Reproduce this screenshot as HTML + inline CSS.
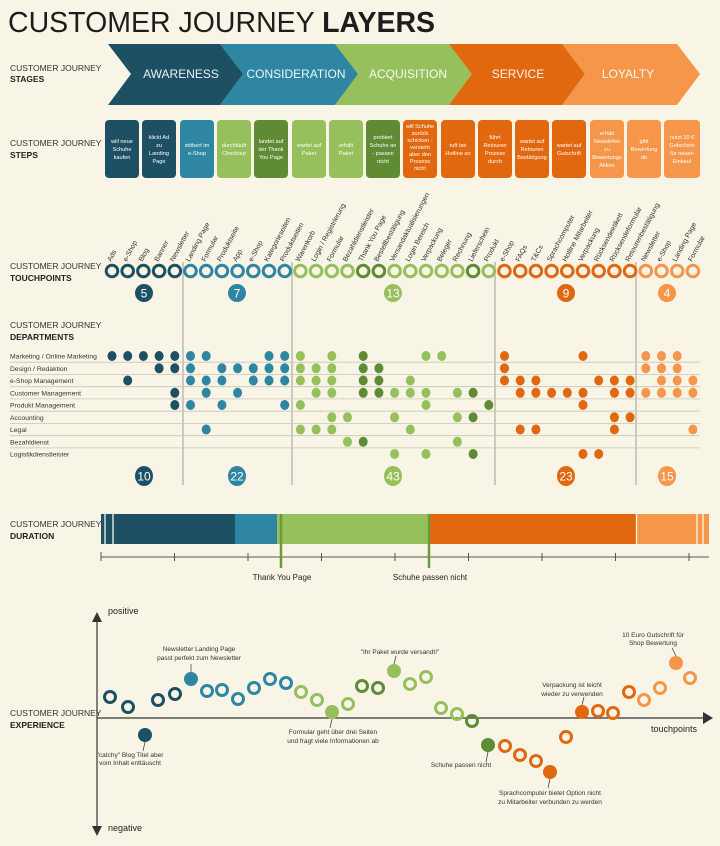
<!DOCTYPE html>
<html><head><meta charset="utf-8"><style>
html,body{margin:0;padding:0;background:#f8f5e6}
svg{display:block;font-family:"Liberation Sans",sans-serif}
.D{fill:#1e5064}.T{fill:#2e86a3}.G{fill:#96c05c}.K{fill:#5f8b34}.O{fill:#e2680f}.L{fill:#f5964a}
.rD{stroke:#1e5064}.rT{stroke:#2e86a3}.rG{stroke:#96c05c}.rK{stroke:#5f8b34}.rO{stroke:#e2680f}.rL{stroke:#f5964a}
.r circle{fill:none;stroke-width:3}
.lbl{font-size:8.5px;fill:#333}
.lbb{font-size:8.5px;fill:#222;font-weight:bold}
.st text{font-size:5.6px;fill:#fff;text-anchor:middle}
.tp text{font-size:7px;fill:#333}
.dep{font-size:6.8px;fill:#333}
.num{font-size:12px;fill:#fff;text-anchor:middle}
.ann{font-size:6.5px;fill:#333;text-anchor:middle}
</style></head><body>
<svg width="720" height="846" viewBox="0 0 720 846" xmlns="http://www.w3.org/2000/svg">
<rect width="720" height="846" fill="#f8f5e6"/>
<text x="8" y="32" font-size="28.5" fill="#1d1d1d">CUSTOMER JOURNEY <tspan font-weight="bold">LAYERS</tspan></text>

<!-- stages -->
<text x="10" y="71" class="lbl">CUSTOMER JOURNEY</text>
<text x="10" y="82" class="lbb">STAGES</text>
<polygon class="L" points="562,44 677,44 700,74 677,105 562,105 585,74"/>
<polygon class="O" points="447,44 562,44 585,74 562,105 447,105 470,74"/>
<polygon class="G" points="335,44 449,44 472,74 449,105 335,105 358,74"/>
<polygon class="T" points="220,44 335,44 358,74 335,105 220,105 243,74"/>
<polygon class="D" points="108,44 220,44 243,74 220,105 108,105 131,74"/>
<g font-size="12" fill="#fff" text-anchor="middle" opacity="0.92">
<text x="181" y="78">AWARENESS</text><text x="296" y="78">CONSIDERATION</text><text x="408" y="78">ACQUISITION</text><text x="518" y="78">SERVICE</text><text x="628" y="78">LOYALTY</text></g>

<!-- steps -->
<text x="10" y="146" class="lbl">CUSTOMER JOURNEY</text>
<text x="10" y="158" class="lbb">STEPS</text>
<g class="st">
<rect class="D" x="105" y="120" width="34" height="58" rx="4"/><text x="122" y="143">will neue</text><text x="122" y="151">Schuhe</text><text x="122" y="159">kaufen</text>
<rect class="D" x="142" y="120" width="34" height="58" rx="4"/><text x="159" y="139">klickt Ad</text><text x="159" y="147">zu</text><text x="159" y="155">Landing</text><text x="159" y="163">Page</text>
<rect class="T" x="180" y="120" width="34" height="58" rx="4"/><text x="197" y="147">stöbert im</text><text x="197" y="155">e-Shop</text>
<rect class="G" x="217" y="120" width="34" height="58" rx="4"/><text x="234" y="147">durchläuft</text><text x="234" y="155">Checkout</text>
<rect class="K" x="254" y="120" width="34" height="58" rx="4"/><text x="271" y="143">landet auf</text><text x="271" y="151">der Thank</text><text x="271" y="159">You Page</text>
<rect class="G" x="292" y="120" width="34" height="58" rx="4"/><text x="309" y="147">wartet auf</text><text x="309" y="155">Paket</text>
<rect class="G" x="329" y="120" width="34" height="58" rx="4"/><text x="346" y="147">erhält</text><text x="346" y="155">Paket</text>
<rect class="K" x="366" y="120" width="34" height="58" rx="4"/><text x="383" y="139">probiert</text><text x="383" y="147">Schuhe an</text><text x="383" y="155">- passen</text><text x="383" y="163">nicht</text>
<rect class="O" x="403" y="120" width="34" height="58" rx="4"/><text x="420" y="128">will Schuhe</text><text x="420" y="135">zurück</text><text x="420" y="142">schicken -</text><text x="420" y="149">versteht</text><text x="420" y="156">aber den</text><text x="420" y="163">Prozess</text><text x="420" y="170">nicht</text>
<rect class="O" x="441" y="120" width="34" height="58" rx="4"/><text x="458" y="147">ruft bei</text><text x="458" y="155">Hotline an</text>
<rect class="O" x="478" y="120" width="34" height="58" rx="4"/><text x="495" y="139">führt</text><text x="495" y="147">Retouren</text><text x="495" y="155">Prozess</text><text x="495" y="163">durch</text>
<rect class="O" x="515" y="120" width="34" height="58" rx="4"/><text x="532" y="143">wartet auf</text><text x="532" y="151">Retouren</text><text x="532" y="159">Bestätigung</text>
<rect class="O" x="552" y="120" width="34" height="58" rx="4"/><text x="569" y="147">wartet auf</text><text x="569" y="155">Gutschrift</text>
<rect class="L" x="590" y="120" width="34" height="58" rx="4"/><text x="607" y="135">erhält</text><text x="607" y="143">Newsletter</text><text x="607" y="151">zu</text><text x="607" y="159">Bewertungs</text><text x="607" y="167">Aktion</text>
<rect class="L" x="627" y="120" width="34" height="58" rx="4"/><text x="644" y="143">gibt</text><text x="644" y="151">Bewertung</text><text x="644" y="159">ab</text>
<rect class="L" x="664" y="120" width="36" height="58" rx="4"/><text x="682" y="139">nutzt 10 €</text><text x="682" y="147">Gutschein</text><text x="682" y="155">für neuen</text><text x="682" y="163">Einkauf</text>
</g>

<!-- dividers -->
<g stroke="#8a8a80" stroke-width="0.8">
<line x1="183" y1="262" x2="183" y2="485"/><line x1="292" y1="262" x2="292" y2="485"/><line x1="495" y1="262" x2="495" y2="485"/><line x1="636" y1="262" x2="636" y2="485"/>
</g>

<!-- touchpoints -->
<text x="10" y="269" class="lbl">CUSTOMER JOURNEY</text>
<text x="10" y="281" class="lbb">TOUCHPOINTS</text>
<g class="tp">
<text transform="translate(111,262) rotate(-62)">Ads</text>
<text transform="translate(126.7,262) rotate(-62)">e-Shop</text>
<text transform="translate(142.4,262) rotate(-62)">Blog</text>
<text transform="translate(158.1,262) rotate(-62)">Banner</text>
<text transform="translate(173.8,262) rotate(-62)">Newsletter</text>
<text transform="translate(189.5,262) rotate(-62)">Landing Page</text>
<text transform="translate(205.2,262) rotate(-62)">Formular</text>
<text transform="translate(220.9,262) rotate(-62)">Produktseite</text>
<text transform="translate(236.6,262) rotate(-62)">App</text>
<text transform="translate(252.3,262) rotate(-62)">e-Shop</text>
<text transform="translate(268,262) rotate(-62)">Kategorieseiten</text>
<text transform="translate(283.7,262) rotate(-62)">Produktseiten</text>
<text transform="translate(299.4,262) rotate(-62)">Warenkorb</text>
<text transform="translate(315.1,262) rotate(-62)">Login / Registrierung</text>
<text transform="translate(330.8,262) rotate(-62)">Formular</text>
<text transform="translate(346.5,262) rotate(-62)">Bezahldienstleister</text>
<text transform="translate(362.2,262) rotate(-62)">Thank You Page</text>
<text transform="translate(377.9,262) rotate(-62)">Bestellbestätigung</text>
<text transform="translate(393.6,262) rotate(-62)">Versandaktualisierungen</text>
<text transform="translate(409.3,262) rotate(-62)">Login Bereich</text>
<text transform="translate(425,262) rotate(-62)">Verpackung</text>
<text transform="translate(440.7,262) rotate(-62)">Beleger</text>
<text transform="translate(456.4,262) rotate(-62)">Rechnung</text>
<text transform="translate(472.1,262) rotate(-62)">Lieferschein</text>
<text transform="translate(487.8,262) rotate(-62)">Produkt</text>
<text transform="translate(503.5,262) rotate(-62)">e-Shop</text>
<text transform="translate(519.2,262) rotate(-62)">FAQs</text>
<text transform="translate(534.9,262) rotate(-62)">T&amp;Cs</text>
<text transform="translate(550.6,262) rotate(-62)">Sprachcomputer</text>
<text transform="translate(566.3,262) rotate(-62)">Hotline Mitarbeiter</text>
<text transform="translate(582,262) rotate(-62)">Verpackung</text>
<text transform="translate(597.7,262) rotate(-62)">Rücksendeetikett</text>
<text transform="translate(613.4,262) rotate(-62)">Rücksendeformular</text>
<text transform="translate(629.1,262) rotate(-62)">Retourenbestätigung</text>
<text transform="translate(644.8,262) rotate(-62)">Newsletter</text>
<text transform="translate(660.5,262) rotate(-62)">e-Shop</text>
<text transform="translate(676.2,262) rotate(-62)">Landing Page</text>
<text transform="translate(691.9,262) rotate(-62)">Formular</text>
</g>
<g class="r">
<circle class="rD" cx="112" cy="271" r="5.8"/><circle class="rD" cx="127.7" cy="271" r="5.8"/><circle class="rD" cx="143.4" cy="271" r="5.8"/><circle class="rD" cx="159.1" cy="271" r="5.8"/><circle class="rD" cx="174.8" cy="271" r="5.8"/>
<circle class="rT" cx="190.5" cy="271" r="5.8"/><circle class="rT" cx="206.2" cy="271" r="5.8"/><circle class="rT" cx="221.9" cy="271" r="5.8"/><circle class="rT" cx="237.6" cy="271" r="5.8"/><circle class="rT" cx="253.3" cy="271" r="5.8"/><circle class="rT" cx="269" cy="271" r="5.8"/><circle class="rT" cx="284.7" cy="271" r="5.8"/>
<circle class="rG" cx="300.4" cy="271" r="5.8"/><circle class="rG" cx="316.1" cy="271" r="5.8"/><circle class="rG" cx="331.8" cy="271" r="5.8"/><circle class="rG" cx="347.5" cy="271" r="5.8"/><circle class="rK" cx="363.2" cy="271" r="5.8"/><circle class="rK" cx="378.9" cy="271" r="5.8"/><circle class="rG" cx="394.6" cy="271" r="5.8"/><circle class="rG" cx="410.3" cy="271" r="5.8"/><circle class="rG" cx="426" cy="271" r="5.8"/><circle class="rG" cx="441.7" cy="271" r="5.8"/><circle class="rG" cx="457.4" cy="271" r="5.8"/><circle class="rK" cx="473.1" cy="271" r="5.8"/><circle class="rG" cx="488.8" cy="271" r="5.8"/>
<circle class="rO" cx="504.5" cy="271" r="5.8"/><circle class="rO" cx="520.2" cy="271" r="5.8"/><circle class="rO" cx="535.9" cy="271" r="5.8"/><circle class="rO" cx="551.6" cy="271" r="5.8"/><circle class="rO" cx="567.3" cy="271" r="5.8"/><circle class="rO" cx="583" cy="271" r="5.8"/><circle class="rO" cx="598.7" cy="271" r="5.8"/><circle class="rO" cx="614.4" cy="271" r="5.8"/><circle class="rO" cx="630.1" cy="271" r="5.8"/>
<circle class="rL" cx="645.8" cy="271" r="5.8"/><circle class="rL" cx="661.5" cy="271" r="5.8"/><circle class="rL" cx="677.2" cy="271" r="5.8"/><circle class="rL" cx="692.9" cy="271" r="5.8"/>
</g>
<circle class="D" cx="144" cy="293" r="9"/><text class="num" x="144" y="297.5">5</text>
<circle class="T" cx="237" cy="293" r="9"/><text class="num" x="237" y="297.5">7</text>
<circle class="G" cx="393" cy="293" r="9"/><text class="num" x="393" y="297.5">13</text>
<circle class="O" cx="566" cy="293" r="9"/><text class="num" x="566" y="297.5">9</text>
<circle class="L" cx="667" cy="293" r="9"/><text class="num" x="667" y="297.5">4</text>

<!-- departments -->
<text x="10" y="328" class="lbl">CUSTOMER JOURNEY</text>
<text x="10" y="340" class="lbb">DEPARTMENTS</text>
<g class="dep">
<text x="10" y="358.5">Marketing / Online Marketing</text>
<text x="10" y="370.8">Design / Redaktion</text>
<text x="10" y="383">e-Shop Management</text>
<text x="10" y="395.3">Customer Management</text>
<text x="10" y="407.5">Produkt Management</text>
<text x="10" y="419.8">Accounting</text>
<text x="10" y="432">Legal</text>
<text x="10" y="444.3">Bezahldienst</text>
<text x="10" y="456.5">Logistikdienstleister</text>
</g>
<g stroke="#c8c6b8" stroke-width="0.8">
<line x1="10" y1="362.2" x2="700" y2="362.2"/><line x1="10" y1="374.4" x2="700" y2="374.4"/><line x1="10" y1="386.7" x2="700" y2="386.7"/><line x1="10" y1="398.9" x2="700" y2="398.9"/><line x1="10" y1="411.2" x2="700" y2="411.2"/><line x1="10" y1="423.4" x2="700" y2="423.4"/><line x1="10" y1="435.7" x2="700" y2="435.7"/><line x1="10" y1="447.9" x2="700" y2="447.9"/>
</g>
<g>
<ellipse class="D" cx="112" cy="356" rx="4.5" ry="5"/><ellipse class="D" cx="127.7" cy="356" rx="4.5" ry="5"/><ellipse class="D" cx="143.4" cy="356" rx="4.5" ry="5"/><ellipse class="D" cx="159.1" cy="356" rx="4.5" ry="5"/><ellipse class="D" cx="174.8" cy="356" rx="4.5" ry="5"/><ellipse class="T" cx="190.5" cy="356" rx="4.5" ry="5"/><ellipse class="T" cx="206.2" cy="356" rx="4.5" ry="5"/><ellipse class="T" cx="269" cy="356" rx="4.5" ry="5"/><ellipse class="T" cx="284.7" cy="356" rx="4.5" ry="5"/><ellipse class="G" cx="300.4" cy="356" rx="4.5" ry="5"/><ellipse class="G" cx="331.8" cy="356" rx="4.5" ry="5"/><ellipse class="K" cx="363.2" cy="356" rx="4.5" ry="5"/><ellipse class="G" cx="426" cy="356" rx="4.5" ry="5"/><ellipse class="G" cx="441.7" cy="356" rx="4.5" ry="5"/><ellipse class="O" cx="504.5" cy="356" rx="4.5" ry="5"/><ellipse class="O" cx="583" cy="356" rx="4.5" ry="5"/><ellipse class="L" cx="645.8" cy="356" rx="4.5" ry="5"/><ellipse class="L" cx="661.5" cy="356" rx="4.5" ry="5"/><ellipse class="L" cx="677.2" cy="356" rx="4.5" ry="5"/>
<ellipse class="D" cx="159.1" cy="368.3" rx="4.5" ry="5"/><ellipse class="D" cx="174.8" cy="368.3" rx="4.5" ry="5"/><ellipse class="T" cx="190.5" cy="368.3" rx="4.5" ry="5"/><ellipse class="T" cx="221.9" cy="368.3" rx="4.5" ry="5"/><ellipse class="T" cx="237.6" cy="368.3" rx="4.5" ry="5"/><ellipse class="T" cx="253.3" cy="368.3" rx="4.5" ry="5"/><ellipse class="T" cx="269" cy="368.3" rx="4.5" ry="5"/><ellipse class="T" cx="284.7" cy="368.3" rx="4.5" ry="5"/><ellipse class="G" cx="300.4" cy="368.3" rx="4.5" ry="5"/><ellipse class="G" cx="316.1" cy="368.3" rx="4.5" ry="5"/><ellipse class="G" cx="331.8" cy="368.3" rx="4.5" ry="5"/><ellipse class="K" cx="363.2" cy="368.3" rx="4.5" ry="5"/><ellipse class="K" cx="378.9" cy="368.3" rx="4.5" ry="5"/><ellipse class="O" cx="504.5" cy="368.3" rx="4.5" ry="5"/><ellipse class="L" cx="645.8" cy="368.3" rx="4.5" ry="5"/><ellipse class="L" cx="661.5" cy="368.3" rx="4.5" ry="5"/><ellipse class="L" cx="677.2" cy="368.3" rx="4.5" ry="5"/>
<ellipse class="D" cx="127.7" cy="380.5" rx="4.5" ry="5"/><ellipse class="T" cx="190.5" cy="380.5" rx="4.5" ry="5"/><ellipse class="T" cx="206.2" cy="380.5" rx="4.5" ry="5"/><ellipse class="T" cx="221.9" cy="380.5" rx="4.5" ry="5"/><ellipse class="T" cx="253.3" cy="380.5" rx="4.5" ry="5"/><ellipse class="T" cx="269" cy="380.5" rx="4.5" ry="5"/><ellipse class="T" cx="284.7" cy="380.5" rx="4.5" ry="5"/><ellipse class="G" cx="300.4" cy="380.5" rx="4.5" ry="5"/><ellipse class="G" cx="316.1" cy="380.5" rx="4.5" ry="5"/><ellipse class="G" cx="331.8" cy="380.5" rx="4.5" ry="5"/><ellipse class="K" cx="363.2" cy="380.5" rx="4.5" ry="5"/><ellipse class="K" cx="378.9" cy="380.5" rx="4.5" ry="5"/><ellipse class="G" cx="410.3" cy="380.5" rx="4.5" ry="5"/><ellipse class="O" cx="504.5" cy="380.5" rx="4.5" ry="5"/><ellipse class="O" cx="520.2" cy="380.5" rx="4.5" ry="5"/><ellipse class="O" cx="535.9" cy="380.5" rx="4.5" ry="5"/><ellipse class="O" cx="598.7" cy="380.5" rx="4.5" ry="5"/><ellipse class="O" cx="614.4" cy="380.5" rx="4.5" ry="5"/><ellipse class="O" cx="630.1" cy="380.5" rx="4.5" ry="5"/><ellipse class="L" cx="661.5" cy="380.5" rx="4.5" ry="5"/><ellipse class="L" cx="677.2" cy="380.5" rx="4.5" ry="5"/><ellipse class="L" cx="692.9" cy="380.5" rx="4.5" ry="5"/>
<ellipse class="D" cx="174.8" cy="392.8" rx="4.5" ry="5"/><ellipse class="T" cx="206.2" cy="392.8" rx="4.5" ry="5"/><ellipse class="T" cx="237.6" cy="392.8" rx="4.5" ry="5"/><ellipse class="G" cx="316.1" cy="392.8" rx="4.5" ry="5"/><ellipse class="G" cx="331.8" cy="392.8" rx="4.5" ry="5"/><ellipse class="K" cx="363.2" cy="392.8" rx="4.5" ry="5"/><ellipse class="K" cx="378.9" cy="392.8" rx="4.5" ry="5"/><ellipse class="G" cx="394.6" cy="392.8" rx="4.5" ry="5"/><ellipse class="G" cx="410.3" cy="392.8" rx="4.5" ry="5"/><ellipse class="G" cx="426" cy="392.8" rx="4.5" ry="5"/><ellipse class="G" cx="457.4" cy="392.8" rx="4.5" ry="5"/><ellipse class="K" cx="473.1" cy="392.8" rx="4.5" ry="5"/><ellipse class="O" cx="520.2" cy="392.8" rx="4.5" ry="5"/><ellipse class="O" cx="535.9" cy="392.8" rx="4.5" ry="5"/><ellipse class="O" cx="551.6" cy="392.8" rx="4.5" ry="5"/><ellipse class="O" cx="567.3" cy="392.8" rx="4.5" ry="5"/><ellipse class="O" cx="583" cy="392.8" rx="4.5" ry="5"/><ellipse class="O" cx="614.4" cy="392.8" rx="4.5" ry="5"/><ellipse class="O" cx="630.1" cy="392.8" rx="4.5" ry="5"/><ellipse class="L" cx="645.8" cy="392.8" rx="4.5" ry="5"/><ellipse class="L" cx="661.5" cy="392.8" rx="4.5" ry="5"/><ellipse class="L" cx="677.2" cy="392.8" rx="4.5" ry="5"/><ellipse class="L" cx="692.9" cy="392.8" rx="4.5" ry="5"/>
<ellipse class="D" cx="174.8" cy="405" rx="4.5" ry="5"/><ellipse class="T" cx="190.5" cy="405" rx="4.5" ry="5"/><ellipse class="T" cx="221.9" cy="405" rx="4.5" ry="5"/><ellipse class="T" cx="284.7" cy="405" rx="4.5" ry="5"/><ellipse class="G" cx="300.4" cy="405" rx="4.5" ry="5"/><ellipse class="G" cx="426" cy="405" rx="4.5" ry="5"/><ellipse class="K" cx="488.8" cy="405" rx="4.5" ry="5"/><ellipse class="O" cx="583" cy="405" rx="4.5" ry="5"/>
<ellipse class="G" cx="331.8" cy="417.3" rx="4.5" ry="5"/><ellipse class="G" cx="347.5" cy="417.3" rx="4.5" ry="5"/><ellipse class="G" cx="394.6" cy="417.3" rx="4.5" ry="5"/><ellipse class="G" cx="457.4" cy="417.3" rx="4.5" ry="5"/><ellipse class="K" cx="473.1" cy="417.3" rx="4.5" ry="5"/><ellipse class="O" cx="614.4" cy="417.3" rx="4.5" ry="5"/><ellipse class="O" cx="630.1" cy="417.3" rx="4.5" ry="5"/>
<ellipse class="T" cx="206.2" cy="429.5" rx="4.5" ry="5"/><ellipse class="G" cx="300.4" cy="429.5" rx="4.5" ry="5"/><ellipse class="G" cx="316.1" cy="429.5" rx="4.5" ry="5"/><ellipse class="G" cx="331.8" cy="429.5" rx="4.5" ry="5"/><ellipse class="G" cx="410.3" cy="429.5" rx="4.5" ry="5"/><ellipse class="O" cx="520.2" cy="429.5" rx="4.5" ry="5"/><ellipse class="O" cx="535.9" cy="429.5" rx="4.5" ry="5"/><ellipse class="O" cx="614.4" cy="429.5" rx="4.5" ry="5"/><ellipse class="L" cx="692.9" cy="429.5" rx="4.5" ry="5"/>
<ellipse class="G" cx="347.5" cy="441.8" rx="4.5" ry="5"/><ellipse class="K" cx="363.2" cy="441.8" rx="4.5" ry="5"/><ellipse class="G" cx="457.4" cy="441.8" rx="4.5" ry="5"/>
<ellipse class="G" cx="394.6" cy="454" rx="4.5" ry="5"/><ellipse class="G" cx="426" cy="454" rx="4.5" ry="5"/><ellipse class="K" cx="473.1" cy="454" rx="4.5" ry="5"/><ellipse class="O" cx="583" cy="454" rx="4.5" ry="5"/><ellipse class="O" cx="598.7" cy="454" rx="4.5" ry="5"/>
</g>
<ellipse class="D" cx="144" cy="476" rx="9" ry="10"/><text class="num" x="144" y="480.5">10</text>
<ellipse class="T" cx="237" cy="476" rx="9" ry="10"/><text class="num" x="237" y="480.5">22</text>
<ellipse class="G" cx="393" cy="476" rx="9" ry="10"/><text class="num" x="393" y="480.5">43</text>
<ellipse class="O" cx="566" cy="476" rx="9" ry="10"/><text class="num" x="566" y="480.5">23</text>
<ellipse class="L" cx="667" cy="476" rx="9" ry="10"/><text class="num" x="667" y="480.5">15</text>

<!-- duration -->
<text x="10" y="527" class="lbl">CUSTOMER JOURNEY</text>
<text x="10" y="539" class="lbb">DURATION</text>
<rect class="D" x="101" y="514" width="135" height="30"/>
<rect class="T" x="235" y="514" width="43" height="30"/>
<rect class="G" x="277" y="514" width="153" height="30"/>
<rect class="O" x="429" y="514" width="207" height="30"/>
<rect class="L" x="637" y="514" width="72" height="30"/>
<g stroke="#f8f5e6" stroke-width="1.3">
<line x1="105" y1="514" x2="105" y2="544"/><line x1="113" y1="514" x2="113" y2="544"/><line x1="636.5" y1="514" x2="636.5" y2="544"/><line x1="697" y1="514" x2="697" y2="544"/><line x1="703" y1="514" x2="703" y2="544"/>
</g>
<g stroke="#555" stroke-width="1">
<line x1="101" y1="557" x2="709" y2="557"/>
<line x1="101" y1="552" x2="101" y2="561"/><line x1="174.5" y1="553" x2="174.5" y2="561"/><line x1="248" y1="553" x2="248" y2="561"/><line x1="321.5" y1="553" x2="321.5" y2="561"/><line x1="395" y1="553" x2="395" y2="561"/><line x1="468.5" y1="553" x2="468.5" y2="561"/><line x1="542" y1="553" x2="542" y2="561"/><line x1="615.5" y1="553" x2="615.5" y2="561"/><line x1="689" y1="553" x2="689" y2="561"/>
</g>
<g stroke="#6b9a38" stroke-width="2.5">
<line x1="281" y1="514" x2="281" y2="568"/><line x1="429" y1="514" x2="429" y2="568"/>
</g>
<text x="282" y="580" font-size="8" fill="#222" text-anchor="middle">Thank You Page</text>
<text x="430" y="580" font-size="8" fill="#222" text-anchor="middle">Schuhe passen nicht</text>

<!-- experience -->
<text x="10" y="716" class="lbl">CUSTOMER JOURNEY</text>
<text x="10" y="728" class="lbb">EXPERIENCE</text>
<line x1="97" y1="618" x2="97" y2="830" stroke="#333" stroke-width="1.2"/>
<polygon points="97,612 92,622 102,622" fill="#333"/>
<polygon points="97,836 92,826 102,826" fill="#333"/>
<line x1="97" y1="718" x2="706" y2="718" stroke="#333" stroke-width="1.2"/>
<polygon points="713,718 703,712 703,724" fill="#333"/>
<text x="108" y="614" font-size="9" fill="#222">positive</text>
<text x="108" y="831" font-size="9" fill="#222">negative</text>
<text x="697" y="732" font-size="9" fill="#222" text-anchor="end">touchpoints</text>
<g class="r">
<circle class="rD" cx="110" cy="697" r="5.5"/><circle class="rD" cx="128" cy="707" r="5.5"/><circle class="rD" cx="158" cy="700" r="5.5"/><circle class="rD" cx="175" cy="694" r="5.5"/>
<circle class="rT" cx="207" cy="691" r="5.5"/><circle class="rT" cx="222" cy="690" r="5.5"/><circle class="rT" cx="238" cy="699" r="5.5"/><circle class="rT" cx="254" cy="688" r="5.5"/><circle class="rT" cx="270" cy="679" r="5.5"/><circle class="rT" cx="286" cy="683" r="5.5"/>
<circle class="rG" cx="301" cy="692" r="5.5"/><circle class="rG" cx="317" cy="700" r="5.5"/><circle class="rG" cx="348" cy="704" r="5.5"/><circle class="rK" cx="362" cy="686" r="5.5"/><circle class="rK" cx="378" cy="688" r="5.5"/><circle class="rG" cx="410" cy="684" r="5.5"/><circle class="rG" cx="426" cy="677" r="5.5"/><circle class="rG" cx="441" cy="708" r="5.5"/><circle class="rG" cx="457" cy="714" r="5.5"/><circle class="rK" cx="472" cy="721" r="5.5"/>
<circle class="rO" cx="505" cy="746" r="5.5"/><circle class="rO" cx="520" cy="755" r="5.5"/><circle class="rO" cx="536" cy="761" r="5.5"/><circle class="rO" cx="566" cy="737" r="5.5"/><circle class="rO" cx="598" cy="711" r="5.5"/><circle class="rO" cx="613" cy="713" r="5.5"/><circle class="rO" cx="629" cy="692" r="5.5"/>
<circle class="rL" cx="644" cy="700" r="5.5"/><circle class="rL" cx="660" cy="688" r="5.5"/><circle class="rL" cx="690" cy="678" r="5.5"/>
</g>
<circle class="D" cx="145" cy="735" r="7"/><circle class="T" cx="191" cy="679" r="7"/><circle class="G" cx="332" cy="712" r="7"/><circle class="G" cx="394" cy="671" r="7"/><circle class="K" cx="488" cy="745" r="7"/><circle class="O" cx="550" cy="772" r="7"/><circle class="O" cx="582" cy="712" r="7"/><circle class="L" cx="676" cy="663" r="7"/>
<g stroke="#333" stroke-width="0.7" fill="none">
<path d="M145,742 L143,751"/><path d="M191,672 L191,664"/><path d="M332,719 L330,728"/><path d="M394,664 L396,656"/><path d="M488,752 L486,762"/><path d="M550,779 L548,788"/><path d="M582,705 L584,697"/><path d="M676,656 L672,648"/>
</g>
<g class="ann">
<text x="130" y="757">"catchy" Blog Titel aber</text><text x="130" y="765">vom Inhalt enttäuscht</text>
<text x="199" y="651">Newsletter Landing Page</text><text x="199" y="660">passt perfekt zum Newsletter</text>
<text x="333" y="734">Formular geht über drei Seiten</text><text x="333" y="743">und fragt viele Informationen ab</text>
<text x="400" y="654">"Ihr Paket wurde versandt!"</text>
<text x="461" y="767">Schuhe passen nicht</text>
<text x="550" y="795">Sprachcomputer bietet Option nicht</text><text x="550" y="804">zu Mitarbeiter verbunden zu werden</text>
<text x="572" y="687">Verpackung ist leicht</text><text x="572" y="696">wieder zu verwenden</text>
<text x="653" y="637">10 Euro Gutschrift für</text><text x="653" y="645">Shop Bewertung</text>
</g>
</svg>
</body></html>
